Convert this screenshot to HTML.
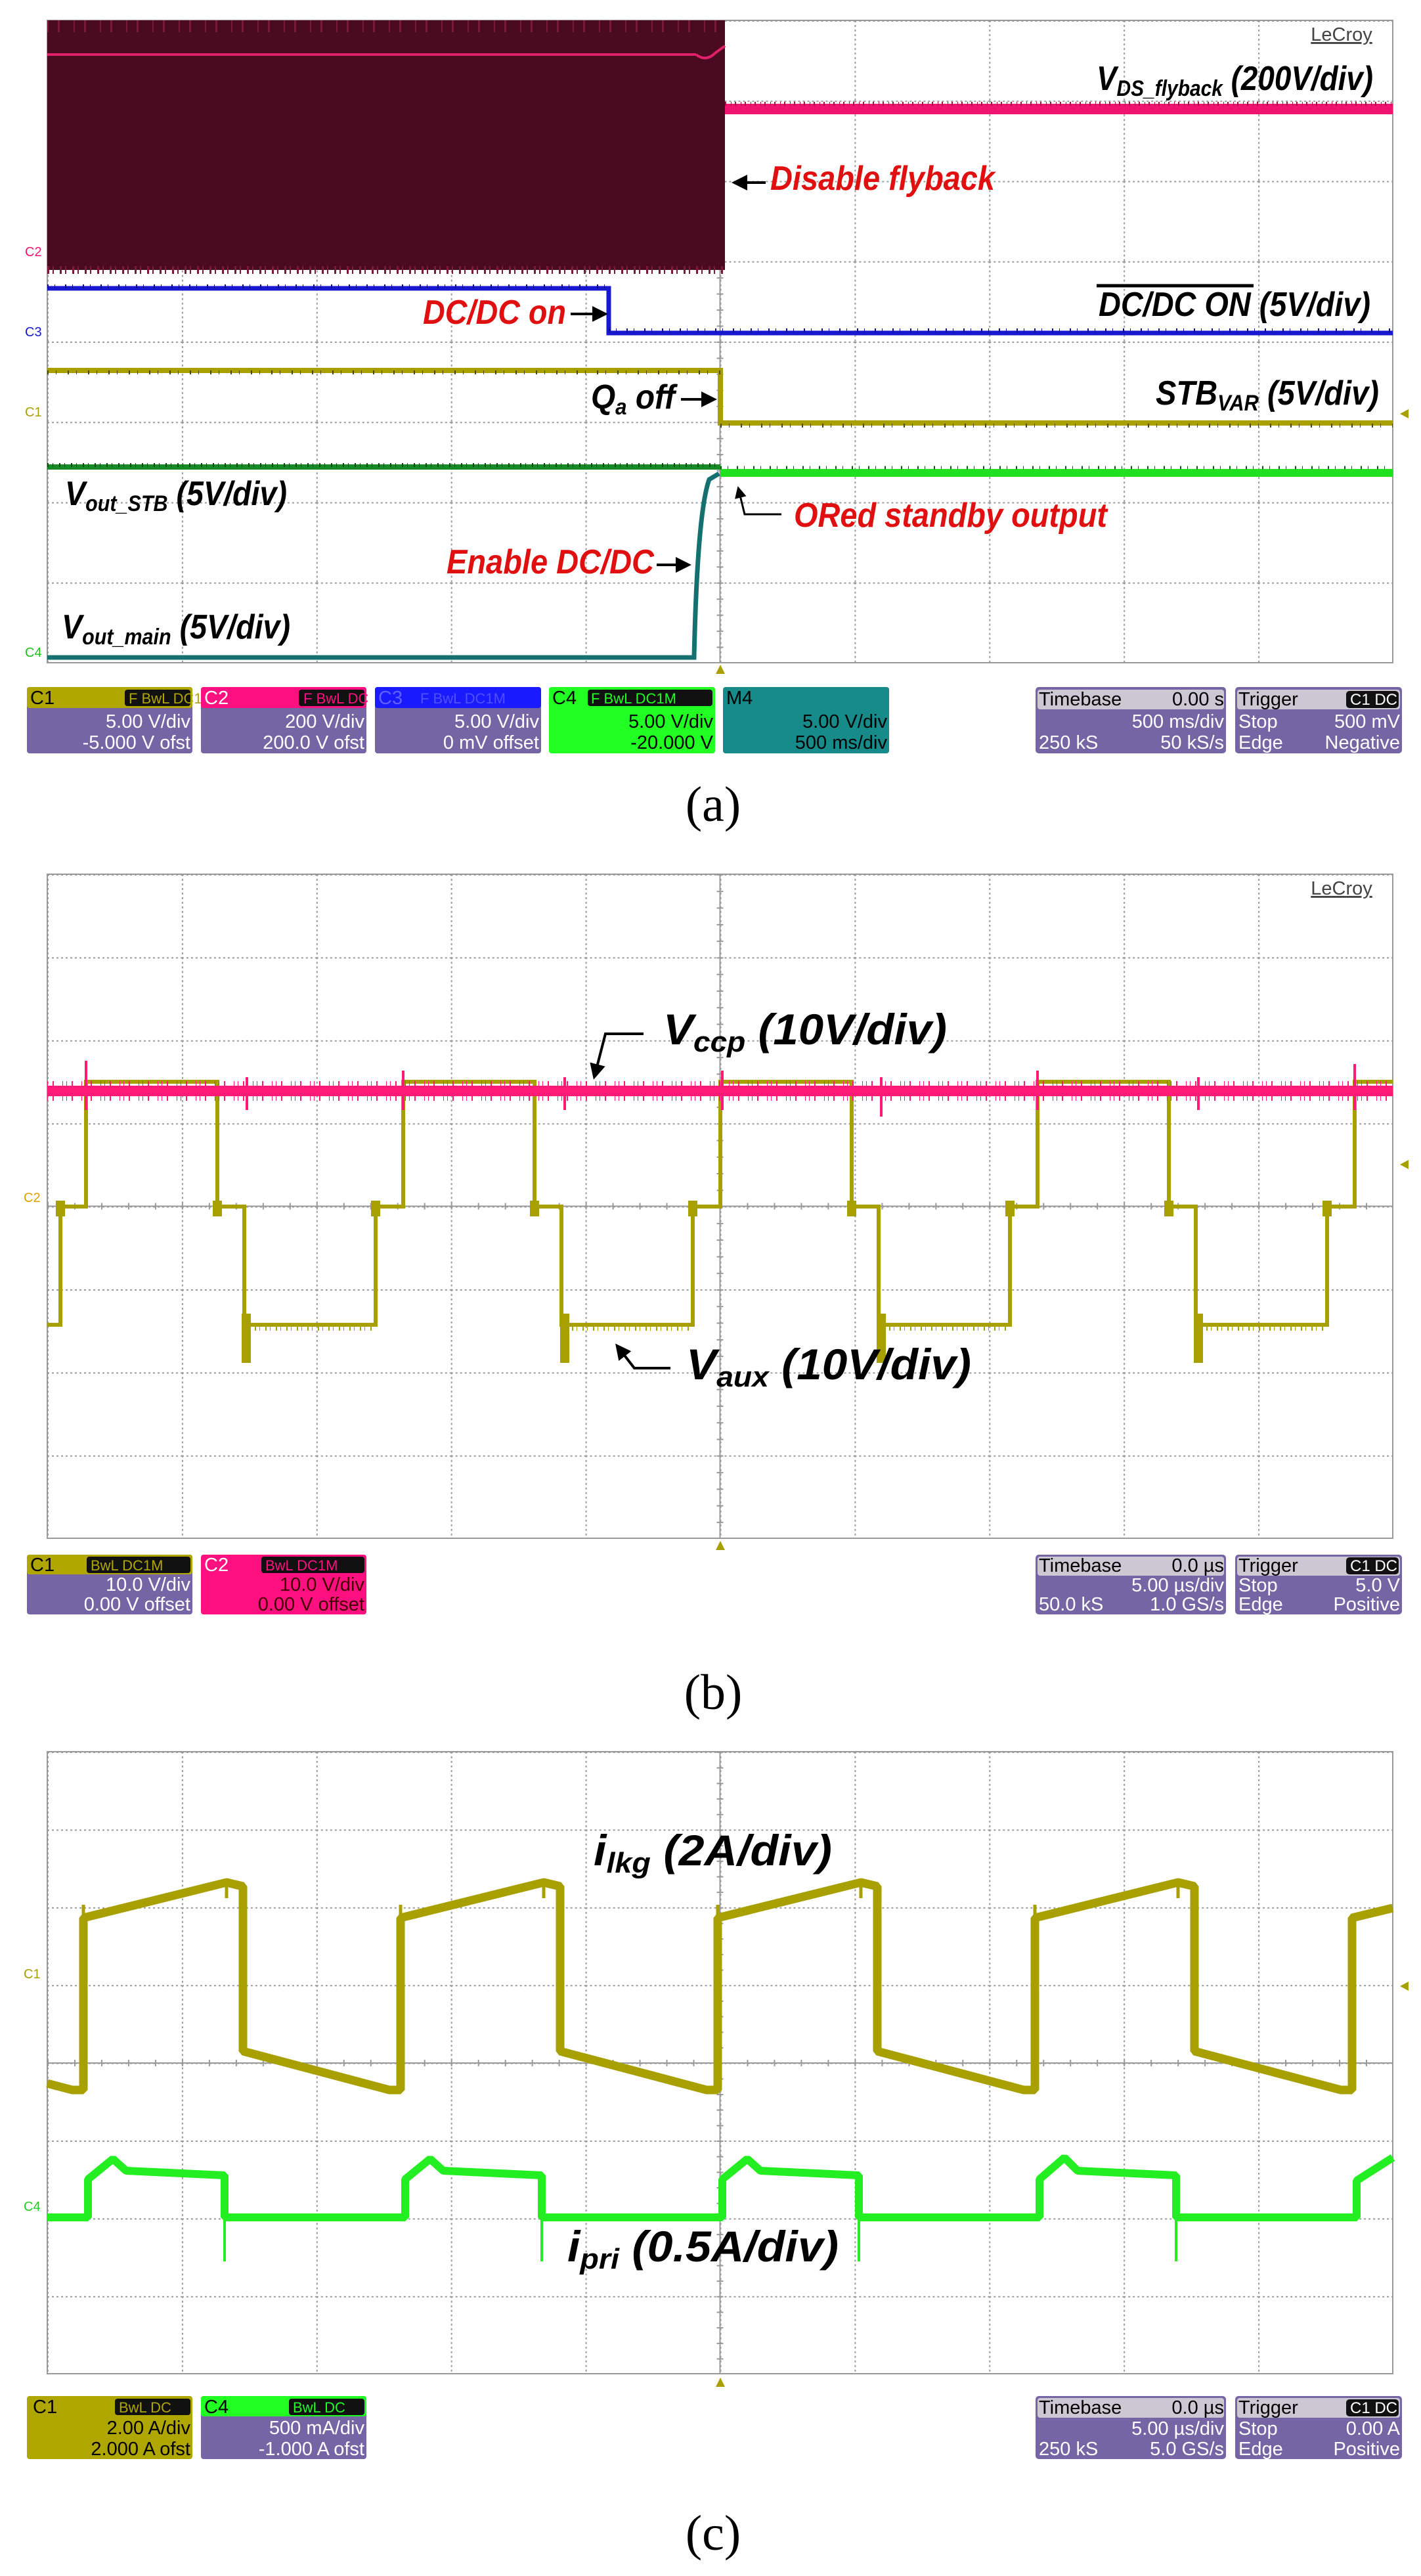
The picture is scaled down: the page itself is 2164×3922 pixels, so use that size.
<!DOCTYPE html>
<html><head><meta charset="utf-8"><style>
html,body{margin:0;padding:0;background:#fff;}
svg{display:block;}
.lb{font-family:"Liberation Sans",sans-serif;font-weight:bold;font-style:italic;font-size:52px;}
.lb2{font-family:"Liberation Sans",sans-serif;font-weight:bold;font-style:italic;font-size:66px;}
.bx{font-family:"Liberation Sans",sans-serif;font-size:29px;}
.cap{font-family:"Liberation Serif",serif;font-size:76px;}
.ch{font-family:"Liberation Sans",sans-serif;font-size:20px;}
</style></head><body>
<svg width="2164" height="3922" viewBox="0 0 2164 3922" xmlns="http://www.w3.org/2000/svg">
<defs>
<pattern id="ga" x="72" y="31" width="204.9" height="122.25" patternUnits="userSpaceOnUse"><path d="M0 1H204.9M1 0V122.25" stroke="#9a9a9a" stroke-width="2" stroke-dasharray="3 4" fill="none"/></pattern>
<pattern id="gb" x="72" y="1331" width="204.9" height="126.4" patternUnits="userSpaceOnUse"><path d="M0 1H204.9M1 0V126.4" stroke="#9a9a9a" stroke-width="2" stroke-dasharray="3 4" fill="none"/></pattern>
<pattern id="gc" x="72" y="2667" width="204.9" height="118.4" patternUnits="userSpaceOnUse"><path d="M0 1H204.9M1 0V118.4" stroke="#9a9a9a" stroke-width="2" stroke-dasharray="3 4" fill="none"/></pattern>
<marker id="ar" markerWidth="6" markerHeight="6" refX="4" refY="3" orient="auto"><path d="M0 0L6 3L0 6z" fill="#000"/></marker>
</defs>

<!-- ================= PANEL A ================= -->
<rect x="72" y="31" width="2049" height="978" fill="url(#ga)" stroke="#999" stroke-width="2"/>
<line x1="1096.5" y1="31" x2="1096.5" y2="1009" stroke="#999" stroke-width="2"/>
<line x1="1096.5" y1="31" x2="1096.5" y2="1009" stroke="#999" stroke-width="10" stroke-dasharray="2 22.45"/>
<text x="2043" y="62" class="bx" font-size="30" text-anchor="middle" fill="#444" text-decoration="underline">LeCroy</text>
<rect x="72" y="31" width="1032" height="380" fill="#4a0a1f"/>
<path d="M72 411 H1104" stroke="#7a1a3a" stroke-width="12" stroke-dasharray="3 5 2 9"/>
<path d="M72 40 H1104" stroke="#7a1a3a" stroke-width="18" stroke-dasharray="2 14 3 21"/>
<line x1="72" y1="83" x2="1060" y2="83" stroke="#e0206a" stroke-width="4"/>
<path d="M1060 83 Q1075 95 1090 80 L1104 70" stroke="#e0206a" stroke-width="4" fill="none"/>
<line x1="1104" y1="166" x2="2121" y2="166" stroke="#f01470" stroke-width="16"/>
<path d="M1104 158 H2121" stroke="#a01040" stroke-width="6" stroke-dasharray="2 7 1 5"/>
<path d="M72 439 H927 V507 H2121" stroke="#1818d0" stroke-width="7" fill="none"/>
<path d="M72 436 H927 M927 503 H2121" stroke="#10108a" stroke-width="6" stroke-dasharray="2 9 1 15" fill="none"/>
<path d="M72 564 H1097 V644 H2121" stroke="#a8a000" stroke-width="8" fill="none"/>
<path d="M72 567 H1097 M1097 648 H2121" stroke="#4a4a10" stroke-width="6" stroke-dasharray="2 11 1 17" fill="none"/>
<path d="M72 711 H1097" stroke="#158a25" stroke-width="8"/>
<path d="M72 708 H1097" stroke="#0a4a10" stroke-width="6" stroke-dasharray="2 6 1 9"/>
<path d="M1097 720 H2121" stroke="#20e020" stroke-width="12"/>
<path d="M1097 712 H2121" stroke="#0a5a10" stroke-width="5" stroke-dasharray="2 9 1 13"/>
<path d="M72 1001 H1057 Q1062 780 1080 730 L1095 721" stroke="#157070" stroke-width="7" fill="none"/>
<!-- labels A -->
<text class="lb" x="1670" y="137" textLength="421" lengthAdjust="spacingAndGlyphs">V<tspan font-size="34" dy="9">DS_flyback</tspan><tspan dy="-9"> (200V/div)</tspan></text>
<line x1="1166" y1="278" x2="1122" y2="278" stroke="#000" stroke-width="4" marker-end="url(#ar)"/>
<text class="lb" fill="#e01010" x="1173" y="289" textLength="342" lengthAdjust="spacingAndGlyphs">Disable flyback</text>
<text class="lb" fill="#e01010" x="644" y="493" textLength="218" lengthAdjust="spacingAndGlyphs">DC/DC on</text>
<line x1="869" y1="478" x2="918" y2="478" stroke="#000" stroke-width="4" marker-end="url(#ar)"/>
<line x1="1670" y1="435" x2="1909" y2="435" stroke="#000" stroke-width="5"/>
<text class="lb" x="1673" y="481" textLength="414" lengthAdjust="spacingAndGlyphs">DC/DC ON (5V/div)</text>
<text class="lb" x="900" y="622" textLength="128" lengthAdjust="spacingAndGlyphs">Q<tspan font-size="34" dy="9">a</tspan><tspan dy="-9"> off</tspan></text>
<line x1="1037" y1="608" x2="1084" y2="608" stroke="#000" stroke-width="4" marker-end="url(#ar)"/>
<text class="lb" x="1760" y="616" textLength="340" lengthAdjust="spacingAndGlyphs">STB<tspan font-size="34" dy="9">VAR</tspan><tspan dy="-9"> (5V/div)</tspan></text>
<text class="lb" x="99" y="769" textLength="338" lengthAdjust="spacingAndGlyphs">V<tspan font-size="34" dy="9">out_STB</tspan><tspan dy="-9"> (5V/div)</tspan></text>
<path d="M1190 783 H1134 L1125 746" stroke="#000" stroke-width="3" fill="none" marker-end="url(#ar)"/>
<text class="lb" fill="#e01010" x="1209" y="802" textLength="477" lengthAdjust="spacingAndGlyphs">ORed standby output</text>
<text class="lb" fill="#e01010" x="680" y="873" textLength="316" lengthAdjust="spacingAndGlyphs">Enable DC/DC</text>
<line x1="1000" y1="860" x2="1045" y2="860" stroke="#000" stroke-width="4" marker-end="url(#ar)"/>
<text class="lb" x="94" y="972" textLength="348" lengthAdjust="spacingAndGlyphs">V<tspan font-size="34" dy="9">out_main</tspan><tspan dy="-9"> (5V/div)</tspan></text>
<text x="38" y="390" class="ch" fill="#f01470">C2</text>
<text x="38" y="512" class="ch" fill="#1818d0">C3</text>
<text x="38" y="634" class="ch" fill="#a8a000">C1</text>
<text x="38" y="1000" class="ch" fill="#20c020">C4</text>
<path d="M1090 1026 L1104 1026 L1097 1012z" fill="#a8a000"/>
<path d="M2145 623 L2145 637 L2132 630z" fill="#a8a000"/>
<g class="bx">
<rect x="41" y="1046" width="252" height="101" rx="4" fill="#7565a5"/><rect x="41" y="1046" width="252" height="32" rx="4" fill="#b0a600"/>
<text x="46" y="1072">C1</text><rect x="190" y="1050" width="100" height="25" rx="4" fill="#111"/><text x="196" y="1071" fill="#b0a600" font-size="22">F BwL DC1M</text>
<text x="290" y="1108" text-anchor="end" fill="#fff">5.00 V/div</text><text x="290" y="1140" text-anchor="end" fill="#fff">-5.000 V ofst</text>
<rect x="306" y="1046" width="252" height="101" rx="4" fill="#7565a5"/><rect x="306" y="1046" width="252" height="32" rx="4" fill="#ff1080"/>
<text x="311" y="1072" fill="#fff">C2</text><rect x="455" y="1050" width="100" height="25" rx="4" fill="#111"/><text x="462" y="1071" fill="#ff1080" font-size="22">F BwL DC</text>
<text x="555" y="1108" text-anchor="end" fill="#fff">200 V/div</text><text x="555" y="1140" text-anchor="end" fill="#fff">200.0 V ofst</text>
<rect x="571" y="1046" width="253" height="101" rx="4" fill="#7565a5"/><rect x="571" y="1046" width="253" height="32" rx="4" fill="#1a1aff"/>
<text x="576" y="1072" fill="#6060ff">C3</text><text x="640" y="1071" fill="#5050ff" font-size="22">F BwL DC1M</text>
<text x="821" y="1108" text-anchor="end" fill="#fff">5.00 V/div</text><text x="821" y="1140" text-anchor="end" fill="#fff">0 mV offset</text>
<rect x="836" y="1046" width="253" height="101" rx="4" fill="#22ff22"/>
<text x="841" y="1072">C4</text><rect x="895" y="1050" width="190" height="25" rx="4" fill="#111"/><text x="900" y="1071" fill="#22ff22" font-size="22">F BwL DC1M</text>
<text x="1086" y="1108" text-anchor="end">5.00 V/div</text><text x="1086" y="1140" text-anchor="end">-20.000 V</text>
<rect x="1101" y="1046" width="253" height="101" rx="4" fill="#178a8a"/>
<text x="1106" y="1072">M4</text>
<text x="1351" y="1108" text-anchor="end">5.00 V/div</text><text x="1351" y="1140" text-anchor="end">500 ms/div</text>
<rect x="1577" y="1046" width="290" height="101" rx="5" fill="#7565a5"/><rect x="1580" y="1050" width="284" height="30" rx="4" fill="#cbc8d4"/>
<text x="1582" y="1074">Timebase</text><text x="1864" y="1074" text-anchor="end">0.00 s</text>
<text x="1864" y="1108" text-anchor="end" fill="#fff">500 ms/div</text><text x="1582" y="1140" fill="#fff">250 kS</text><text x="1864" y="1140" text-anchor="end" fill="#fff">50 kS/s</text>
<rect x="1881" y="1046" width="254" height="101" rx="5" fill="#7565a5"/><rect x="1884" y="1050" width="248" height="30" rx="4" fill="#cbc8d4"/>
<text x="1886" y="1074">Trigger</text><rect x="2050" y="1052" width="80" height="26" rx="5" fill="#111"/><text x="2056" y="1073" fill="#fff" font-size="24">C1 DC</text>
<text x="1886" y="1108" fill="#fff">Stop</text><text x="2132" y="1108" text-anchor="end" fill="#fff">500 mV</text>
<text x="1886" y="1140" fill="#fff">Edge</text><text x="2132" y="1140" text-anchor="end" fill="#fff">Negative</text>
</g>
<text x="1086" y="1250" class="cap" text-anchor="middle">(a)</text>

<!-- ================= PANEL B ================= -->
<rect x="72" y="1331" width="2049" height="1011" fill="url(#gb)" stroke="#999" stroke-width="2"/>
<line x1="1096.5" y1="1331" x2="1096.5" y2="2342" stroke="#999" stroke-width="2"/>
<line x1="72" y1="1836.5" x2="2121" y2="1836.5" stroke="#999" stroke-width="2"/>
<line x1="1096.5" y1="1331" x2="1096.5" y2="2342" stroke="#999" stroke-width="10" stroke-dasharray="2 23.28"/>
<line x1="72" y1="1836.5" x2="2121" y2="1836.5" stroke="#999" stroke-width="10" stroke-dasharray="2 38.98"/>
<text x="2043" y="1362" class="bx" font-size="30" text-anchor="middle" fill="#444" text-decoration="underline">LeCroy</text>
<path d="M72 2017 L92 2017 L92 1837 L131 1837 L131 1647 L331 1647 L331 1837 L372 1837 L372 2017 L572 2017 L572 1837 L614 1837 L614 1647 L814 1647 L814 1837 L855 1837 L855 2017 L1055 2017 L1055 1837 L1097 1837 L1097 1647 L1297 1647 L1297 1837 L1338 1837 L1338 2017 L1538 2017 L1538 1837 L1580 1837 L1580 1647 L1780 1647 L1780 1837 L1821 1837 L1821 2017 L2021 2017 L2021 1837 L2063 1837 L2063 1647 L2121 1647" stroke="#a8a000" stroke-width="6" fill="none"/>
<path d="M375 2000 V2075 M860 2000 V2075 M1342 2000 V2075 M1825 2000 V2075 M92 1828 V1852 M331 1828 V1852 M572 1828 V1852 M814 1828 V1852 M1055 1828 V1852 M1297 1828 V1852 M1538 1828 V1852 M1780 1828 V1852 M2021 1828 V1852" stroke="#a8a000" stroke-width="14"/>
<path d="M372 2022 H570 M855 2022 H1053 M1338 2022 H1536 M1821 2022 H2019" stroke="#a8a000" stroke-width="8" stroke-dasharray="2 5 1 8"/>
<line x1="72" y1="1661" x2="2121" y2="1661" stroke="#ff1a78" stroke-width="16"/>
<path d="M72 1661 H2121" stroke="#ff1a78" stroke-width="30" stroke-dasharray="1 7 2 13 1 5"/>
<path d="M131 1615 V1690 M376 1640 V1690 M614 1630 V1690 M860 1640 V1690 M1100 1630 V1690 M1342 1640 V1700 M1580 1630 V1690 M1825 1640 V1690 M2063 1620 V1690" stroke="#ff1a78" stroke-width="4"/>
<text class="lb2" x="1010" y="1590" textLength="432" lengthAdjust="spacingAndGlyphs">V<tspan font-size="44" dy="11">ccp</tspan><tspan dy="-11"> (10V/div)</tspan></text>
<path d="M980 1574 H922 L906 1636" stroke="#000" stroke-width="4" fill="none" marker-end="url(#ar)"/>
<text class="lb2" x="1045" y="2100" textLength="434" lengthAdjust="spacingAndGlyphs">V<tspan font-size="44" dy="11">aux</tspan><tspan dy="-11"> (10V/div)</tspan></text>
<path d="M1021 2083 H966 L942 2052" stroke="#000" stroke-width="4" fill="none" marker-end="url(#ar)"/>
<text x="36" y="1830" class="ch" fill="#e0a000">C2</text>
<path d="M1090 2360 L1104 2360 L1097 2346z" fill="#a8a000"/>
<path d="M2145 1766 L2145 1780 L2132 1773z" fill="#a8a000"/>
<g class="bx">
<rect x="41" y="2367" width="252" height="91" rx="4" fill="#7565a5"/><rect x="41" y="2367" width="252" height="30" rx="4" fill="#b0a600"/>
<text x="46" y="2392">C1</text><rect x="132" y="2370" width="158" height="25" rx="4" fill="#111"/><text x="138" y="2391" fill="#b0a600" font-size="22">BwL DC1M</text>
<text x="290" y="2422" text-anchor="end" fill="#fff">10.0 V/div</text><text x="290" y="2452" text-anchor="end" fill="#fff">0.00 V offset</text>
<rect x="306" y="2367" width="252" height="91" rx="4" fill="#ff1080"/>
<text x="311" y="2392" fill="#fff">C2</text><rect x="398" y="2370" width="157" height="25" rx="4" fill="#111"/><text x="404" y="2391" fill="#ff1080" font-size="22">BwL DC1M</text>
<text x="555" y="2422" text-anchor="end" fill="#400">10.0 V/div</text><text x="555" y="2452" text-anchor="end" fill="#400">0.00 V offset</text>
<rect x="1577" y="2367" width="290" height="91" rx="5" fill="#7565a5"/><rect x="1580" y="2370" width="284" height="29" rx="4" fill="#cbc8d4"/>
<text x="1582" y="2393">Timebase</text><text x="1864" y="2393" text-anchor="end">0.0 µs</text>
<text x="1864" y="2423" text-anchor="end" fill="#fff">5.00 µs/div</text><text x="1582" y="2452" fill="#fff">50.0 kS</text><text x="1864" y="2452" text-anchor="end" fill="#fff">1.0 GS/s</text>
<rect x="1881" y="2367" width="254" height="91" rx="5" fill="#7565a5"/><rect x="1884" y="2370" width="248" height="29" rx="4" fill="#cbc8d4"/>
<text x="1886" y="2393">Trigger</text><rect x="2050" y="2371" width="80" height="26" rx="5" fill="#111"/><text x="2056" y="2392" fill="#fff" font-size="24">C1 DC</text>
<text x="1886" y="2423" fill="#fff">Stop</text><text x="2132" y="2423" text-anchor="end" fill="#fff">5.0 V</text>
<text x="1886" y="2452" fill="#fff">Edge</text><text x="2132" y="2452" text-anchor="end" fill="#fff">Positive</text>
</g>
<text x="1086" y="2602" class="cap" text-anchor="middle">(b)</text>

<!-- ================= PANEL C ================= -->
<rect x="72" y="2667" width="2049" height="947" fill="url(#gc)" stroke="#999" stroke-width="2"/>
<line x1="1096.5" y1="2667" x2="1096.5" y2="3614" stroke="#999" stroke-width="2"/>
<line x1="72" y1="3141" x2="2121" y2="3141" stroke="#999" stroke-width="2"/>
<line x1="1096.5" y1="2667" x2="1096.5" y2="3614" stroke="#999" stroke-width="10" stroke-dasharray="2 21.68"/>
<line x1="72" y1="3141" x2="2121" y2="3141" stroke="#999" stroke-width="10" stroke-dasharray="2 38.98"/>
<path d="M72 3172 L110 3182 L127 3182 L127 2920 L345 2866 L370 2872 L370 3123 L593 3182 L610 3182 L610 2920 L828 2866 L853 2872 L853 3123 L1076 3182 L1093 3182 L1093 2920 L1311 2866 L1336 2872 L1336 3123 L1559 3182 L1576 3182 L1576 2920 L1794 2866 L1819 2872 L1819 3123 L2042 3182 L2059 3182 L2059 2920 L2121 2905" stroke="#a8a000" stroke-width="13" fill="none" stroke-linejoin="bevel"/>
<path d="M127 2920 V2900 M610 2920 V2900 M1093 2920 V2900 M1576 2920 V2900 M345 2866 V2890 M828 2866 V2890 M1311 2866 V2890 M1794 2866 V2890" stroke="#a8a000" stroke-width="5"/>
<path d="M72 3376 L134 3376 L134 3318 L172 3287 L192 3305 L342 3312 L342 3376 L617 3376 L617 3318 L655 3287 L675 3305 L825 3312 L825 3376 L1100 3376 L1100 3318 L1138 3287 L1158 3305 L1308 3312 L1308 3376 L1583 3376 L1583 3318 L1621 3285 L1641 3305 L1791 3312 L1791 3376 L2066 3376 L2066 3320 L2121 3285" stroke="#22ee22" stroke-width="12" fill="none" stroke-linejoin="bevel"/>
<path d="M342 3376 V3443 M825 3376 V3443 M1308 3376 V3443 M1791 3376 V3443" stroke="#22ee22" stroke-width="4"/>
<text class="lb2" x="904" y="2840" textLength="363" lengthAdjust="spacingAndGlyphs">i<tspan font-size="44" dy="11">lkg</tspan><tspan dy="-11"> (2A/div)</tspan></text>
<text class="lb2" x="864" y="3443" textLength="413" lengthAdjust="spacingAndGlyphs">i<tspan font-size="44" dy="11">pri</tspan><tspan dy="-11"> (0.5A/div)</tspan></text>
<text x="36" y="3012" class="ch" fill="#a8a000">C1</text>
<text x="36" y="3366" class="ch" fill="#22cc22">C4</text>
<path d="M1090 3634 L1104 3634 L1097 3620z" fill="#a8a000"/>
<path d="M2145 3017 L2145 3031 L2132 3024z" fill="#a8a000"/>
<g class="bx">
<rect x="41" y="3648" width="252" height="96" rx="4" fill="#b0a600"/>
<text x="50" y="3674">C1</text><rect x="175" y="3652" width="115" height="25" rx="4" fill="#111"/><text x="181" y="3673" fill="#b0a600" font-size="22">BwL DC</text>
<text x="290" y="3706" text-anchor="end">2.00 A/div</text><text x="290" y="3738" text-anchor="end">2.000 A ofst</text>
<rect x="306" y="3648" width="252" height="96" rx="4" fill="#7565a5"/><rect x="306" y="3648" width="252" height="31" rx="4" fill="#22ff22"/>
<text x="311" y="3674">C4</text><rect x="440" y="3652" width="115" height="25" rx="4" fill="#111"/><text x="446" y="3673" fill="#22ff22" font-size="22">BwL DC</text>
<text x="555" y="3706" text-anchor="end" fill="#fff">500 mA/div</text><text x="555" y="3738" text-anchor="end" fill="#fff">-1.000 A ofst</text>
<rect x="1577" y="3648" width="290" height="96" rx="5" fill="#7565a5"/><rect x="1580" y="3651" width="284" height="30" rx="4" fill="#cbc8d4"/>
<text x="1582" y="3675">Timebase</text><text x="1864" y="3675" text-anchor="end">0.0 µs</text>
<text x="1864" y="3707" text-anchor="end" fill="#fff">5.00 µs/div</text><text x="1582" y="3738" fill="#fff">250 kS</text><text x="1864" y="3738" text-anchor="end" fill="#fff">5.0 GS/s</text>
<rect x="1881" y="3648" width="254" height="96" rx="5" fill="#7565a5"/><rect x="1884" y="3651" width="248" height="30" rx="4" fill="#cbc8d4"/>
<text x="1886" y="3675">Trigger</text><rect x="2050" y="3653" width="80" height="26" rx="5" fill="#111"/><text x="2056" y="3674" fill="#fff" font-size="24">C1 DC</text>
<text x="1886" y="3707" fill="#fff">Stop</text><text x="2132" y="3707" text-anchor="end" fill="#fff">0.00 A</text>
<text x="1886" y="3738" fill="#fff">Edge</text><text x="2132" y="3738" text-anchor="end" fill="#fff">Positive</text>
</g>
<text x="1086" y="3882" class="cap" text-anchor="middle">(c)</text>
</svg>
</body></html>
